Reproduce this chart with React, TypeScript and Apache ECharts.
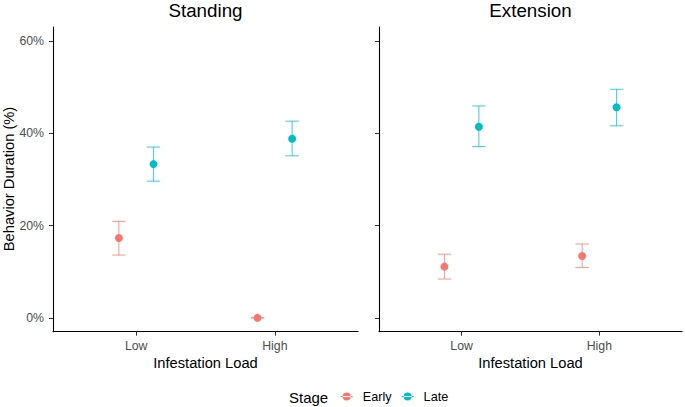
import React, { useEffect, useRef } from "react";
import * as echarts from "echarts";

const categories = ["Low", "High"];
const panels = ["Standing", "Extension"];
const stages = ["Early", "Late"];
const yTicks = [0, 20, 40, 60];

const standingEarly = [17.3, 0.0];
const standingEarlyLo = [13.6, 0.0];
const standingEarlyHi = [20.9, 0.0];
const standingLate = [33.3, 38.8];
const standingLateLo = [29.6, 35.1];
const standingLateHi = [37.0, 42.6];

const extensionEarly = [11.1, 13.4];
const extensionEarlyLo = [8.4, 10.9];
const extensionEarlyHi = [13.8, 16.0];
const extensionLate = [41.4, 45.6];
const extensionLateLo = [37.1, 41.6];
const extensionLateHi = [45.9, 49.5];

const COLORS: Record<string, string> = { Early: "#F8766D", Late: "#00BFC4" };
const BAR_COLORS: Record<string, string> = {
  Early: "rgba(248,118,109,0.7)",
  Late: "rgba(0,191,196,0.7)",
};
const DODGE: Record<string, number> = { Early: -0.125, Late: 0.125 };
const FONT = "Liberation Sans, Arial, sans-serif";

export default function App() {
  const ref = useRef<HTMLDivElement>(null);
  useEffect(() => {
    if (!ref.current) return;
    const chart = echarts.init(ref.current, null, { renderer: "svg" });

    const panelData = [
      {
        Early: { v: standingEarly, lo: standingEarlyLo, hi: standingEarlyHi },
        Late: { v: standingLate, lo: standingLateLo, hi: standingLateHi },
      },
      {
        Early: { v: extensionEarly, lo: extensionEarlyLo, hi: extensionEarlyHi },
        Late: { v: extensionLate, lo: extensionLateLo, hi: extensionLateHi },
      },
    ];

    const grids = [
      { left: 53, right: 685 - 358, top: 27, bottom: 407 - 331.7 },
      { left: 379, right: 3, top: 27, bottom: 407 - 331.7 },
    ];

    const xAxes = grids.map((_, i) => ({
      type: "value",
      gridIndex: i,
      min: 0.4,
      max: 2.6,
      splitLine: { show: false },
      axisLine: { show: true, onZero: false, lineStyle: { color: "#000", width: 1.1 } },
      axisTick: { show: true, length: 4, customValues: [1, 2], lineStyle: { color: "#333", width: 1 } },
      axisLabel: {
        customValues: [1, 2],
        formatter: (v: number) => categories[Math.round(v) - 1] ?? "",
        color: "#4D4D4D",
        fontSize: 12.3,
        fontFamily: FONT,
        margin: 8,
      },
    }));

    const yAxes = grids.map((_, i) => ({
      type: "value",
      gridIndex: i,
      min: -3,
      max: 63,
      splitLine: { show: false },
      axisLine: { show: true, onZero: false, lineStyle: { color: "#000", width: 1.1 } },
      axisTick: { show: true, length: 4, customValues: yTicks, lineStyle: { color: "#333", width: 1 } },
      axisLabel: {
        show: i === 0,
        customValues: yTicks,
        formatter: (v: number) => `${v}%`,
        color: "#4D4D4D",
        fontSize: 12.3,
        fontFamily: FONT,
        margin: 9,
      },
    }));

    const series: any[] = [];
    panelData.forEach((pd: any, pi) => {
      stages.forEach((s) => {
        const d = pd[s];
        const errData = categories.map((_, ci) => [ci + 1 + DODGE[s], d.lo[ci], d.hi[ci]]);
        series.push({
          type: "custom",
          name: `${s}-err-${pi}`,
          xAxisIndex: pi,
          yAxisIndex: pi,
          data: errData,
          renderItem: (params: any, api: any) => {
            const x = api.value(0);
            const lo = api.coord([x, api.value(1)]);
            const hi = api.coord([x, api.value(2)]);
            const cap = 6.7;
            const style = { stroke: BAR_COLORS[s], lineWidth: 1.1 };
            return {
              type: "group",
              children: [
                { type: "line", shape: { x1: lo[0], y1: lo[1], x2: hi[0], y2: hi[1] }, style },
                { type: "line", shape: { x1: hi[0] - cap, y1: hi[1], x2: hi[0] + cap, y2: hi[1] }, style },
                { type: "line", shape: { x1: lo[0] - cap, y1: lo[1], x2: lo[0] + cap, y2: lo[1] }, style },
              ],
            };
          },
          z: 2,
        });
        series.push({
          type: "scatter",
          name: s,
          xAxisIndex: pi,
          yAxisIndex: pi,
          symbol: "circle",
          symbolSize: 8,
          itemStyle: { color: COLORS[s], opacity: 1 },
          data: categories.map((_, ci) => [ci + 1 + DODGE[s], d.v[ci]]),
          z: 3,
        });
      });
    });

    const legendIcon =
      "path://M0,3.5 L12,3.5 L12,4.5 L0,4.5 Z M2,4 A4,4 0 1,0 10,4 A4,4 0 1,0 2,4 Z";

    const option: any = {
      animation: false,
      backgroundColor: "#fff",
      textStyle: { fontFamily: FONT },
      grid: grids,
      xAxis: xAxes,
      yAxis: yAxes,
      series,
      legend: {
        data: stages.map((s) => ({ name: s, icon: legendIcon, itemStyle: { color: COLORS[s] } })),
        left: 340.7,
        top: 390,
        padding: 0,
        itemWidth: 12,
        itemHeight: 8,
        itemGap: 10,
        selectedMode: false,
        textStyle: {
          fontSize: 12.7,
          color: "#000",
          fontFamily: FONT,
          padding: [0, 0, 0, 5],
        },
      },
      graphic: [
        ...panels.map((p, i) => ({
          type: "text",
          x: i === 0 ? 205.5 : 530.5,
          y: 10,
          style: {
            text: p,
            fontSize: 18.8,
            fontFamily: FONT,
            fill: "#000",
            align: "center",
            verticalAlign: "middle",
          },
        })),
        ...[205.5, 530.5].map((cx) => ({
          type: "text",
          x: cx,
          y: 363,
          style: {
            text: "Infestation Load",
            fontSize: 14.7,
            fontFamily: FONT,
            fill: "#000",
            align: "center",
            verticalAlign: "middle",
          },
        })),
        {
          type: "text",
          x: 9,
          y: 179,
          rotation: Math.PI / 2,
          style: {
            text: "Behavior Duration (%)",
            fontSize: 14.7,
            fontFamily: FONT,
            fill: "#000",
            align: "center",
            verticalAlign: "middle",
          },
        },
        {
          type: "text",
          x: 289,
          y: 397,
          style: {
            text: "Stage",
            fontSize: 15,
            fontFamily: FONT,
            fill: "#000",
            align: "left",
            verticalAlign: "middle",
          },
        },
      ],
    };
    chart.setOption(option);
    return () => chart.dispose();
  }, []);

  return <div ref={ref} style={{ width: 685, height: 407, position: "absolute", left: 0, top: 0 }} />;
}
